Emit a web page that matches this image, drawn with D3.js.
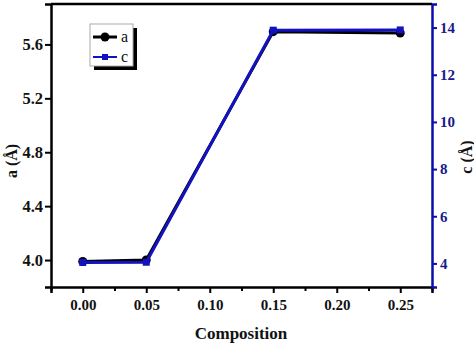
<!DOCTYPE html>
<html><head><meta charset="utf-8">
<script src="https://cdn.jsdelivr.net/npm/d3@7"></script>
<style>body{margin:0;background:#fff}svg{display:block}text{font-family:"Liberation Serif","Times New Roman",serif;font-weight:bold}</style>
</head><body>
<script>
const composition = [0.00, 0.05, 0.15, 0.25];
const aValues = [3.99, 4.00, 5.695, 5.685];
const cValues = [4.04, 4.05, 13.89, 13.90];
const xTicks = [0.00, 0.05, 0.10, 0.15, 0.20, 0.25];
const xMinorTicks = [-0.025, 0.025, 0.075, 0.125, 0.175, 0.225, 0.275];
const aTicks = [4.0, 4.4, 4.8, 5.2, 5.6];
const cTicks = [4, 6, 8, 10, 12, 14];
const seriesNames = ["a", "c"];

const W = 474, H = 344;
const L = 51, R = 432, T = 4, B = 287;
const blue = "#1212c0", axisBlue = "#0c0cb0", labelBlue = "#1a1a8a";

const svg = d3.select("body").append("svg").attr("width", W).attr("height", H);
const x = d3.scaleLinear().domain([-0.025, 0.275]).range([L, R]);
const yA = d3.scaleLinear().domain([3.8, 5.9]).range([B, T]);
const yC = d3.scaleLinear().domain([3, 15]).range([B, T]);

// axes
const xAxis = svg.append("g").attr("transform", `translate(0,${B})`)
  .call(d3.axisBottom(x).tickValues(xTicks).tickFormat(d3.format(".2f")).tickSize(6).tickPadding(6));
const xMinor = svg.append("g").attr("transform", `translate(0,${B})`)
  .call(d3.axisBottom(x).tickValues(xMinorTicks).tickFormat("").tickSize(4));
xMinor.select(".domain").remove();
const yAxisL = svg.append("g").attr("transform", `translate(${L},0)`)
  .call(d3.axisLeft(yA).tickValues(aTicks).tickFormat(d3.format(".1f")).tickSize(6).tickPadding(2));
const yAxisR = svg.append("g").attr("transform", `translate(${R},0)`)
  .call(d3.axisRight(yC).tickValues(cTicks).tickFormat(d3.format("d")).tickSize(5).tickPadding(3));

[xAxis, xMinor, yAxisL].forEach(g => {
  g.selectAll("line").attr("stroke", "#000").attr("stroke-width", 2);
  g.selectAll(".domain").attr("stroke", "#000").attr("stroke-width", 2.5);
  g.selectAll("text").attr("fill", "#111").style("font-size", "15px");
});
yAxisL.selectAll("text").style("font-size", "16.5px");
yAxisR.selectAll("line").attr("stroke", axisBlue).attr("stroke-width", 2);
yAxisR.selectAll(".domain").attr("stroke", axisBlue).attr("stroke-width", 2.5);
yAxisR.selectAll("text").attr("fill", labelBlue).style("font-size", "15px");

// top frame
svg.append("line").attr("x1", L).attr("x2", R).attr("y1", T).attr("y2", T)
  .attr("stroke", "#000").attr("stroke-width", 2.5);

// series
const lineA = d3.line().x((d, i) => x(composition[i])).y(d => yA(d));
const lineC = d3.line().x((d, i) => x(composition[i])).y(d => yC(d));
svg.append("path").attr("d", lineA(aValues)).attr("fill", "none").attr("stroke", "#000").attr("stroke-width", 3);
svg.selectAll(".ma").data(aValues).enter().append("circle")
  .attr("cx", (d, i) => x(composition[i])).attr("cy", d => yA(d)).attr("r", 4.5).attr("fill", "#000");
svg.append("path").attr("d", lineC(cValues)).attr("fill", "none").attr("stroke", blue).attr("stroke-width", 3);
svg.selectAll(".mc").data(cValues).enter().append("rect")
  .attr("x", (d, i) => x(composition[i]) - 3.5).attr("y", d => yC(d) - 3.5)
  .attr("width", 7).attr("height", 7).attr("fill", blue);

// axis titles
svg.append("text").attr("x", 241).attr("y", 339).attr("text-anchor", "middle")
  .style("font-size", "17px").attr("fill", "#111").text("Composition");
svg.append("text").attr("transform", "translate(17,161) rotate(-90)").attr("text-anchor", "middle")
  .style("font-size", "16px").attr("fill", "#111").text("a (Å)");
svg.append("text").attr("transform", "translate(472,157) rotate(-90)").attr("text-anchor", "middle")
  .style("font-size", "16px").attr("fill", "#111").text("c (Å)");

// legend
const lg = svg.append("g");
lg.append("rect").attr("x", 94).attr("y", 28).attr("width", 43).attr("height", 42).attr("fill", "#000");
lg.append("rect").attr("x", 90).attr("y", 24).attr("width", 43).attr("height", 42)
  .attr("fill", "#fff").attr("stroke", "#aaa").attr("stroke-width", 1);
const rows = [37, 57];
seriesNames.forEach((name, i) => {
  const col = i === 0 ? "#000" : blue;
  lg.append("line").attr("x1", 93).attr("x2", 117).attr("y1", rows[i]).attr("y2", rows[i])
    .attr("stroke", col).attr("stroke-width", i === 0 ? 3 : 2);
  if (i === 0) lg.append("circle").attr("cx", 105).attr("cy", rows[i]).attr("r", 4.5).attr("fill", col);
  else lg.append("rect").attr("x", 102).attr("y", rows[i] - 3).attr("width", 6).attr("height", 6).attr("fill", col);
  lg.append("text").attr("x", 121).attr("y", rows[i] + 5).style("font-size", "16px")
    .style("font-weight", "normal").attr("fill", "#111").text(name);
});
</script>
</body></html>
